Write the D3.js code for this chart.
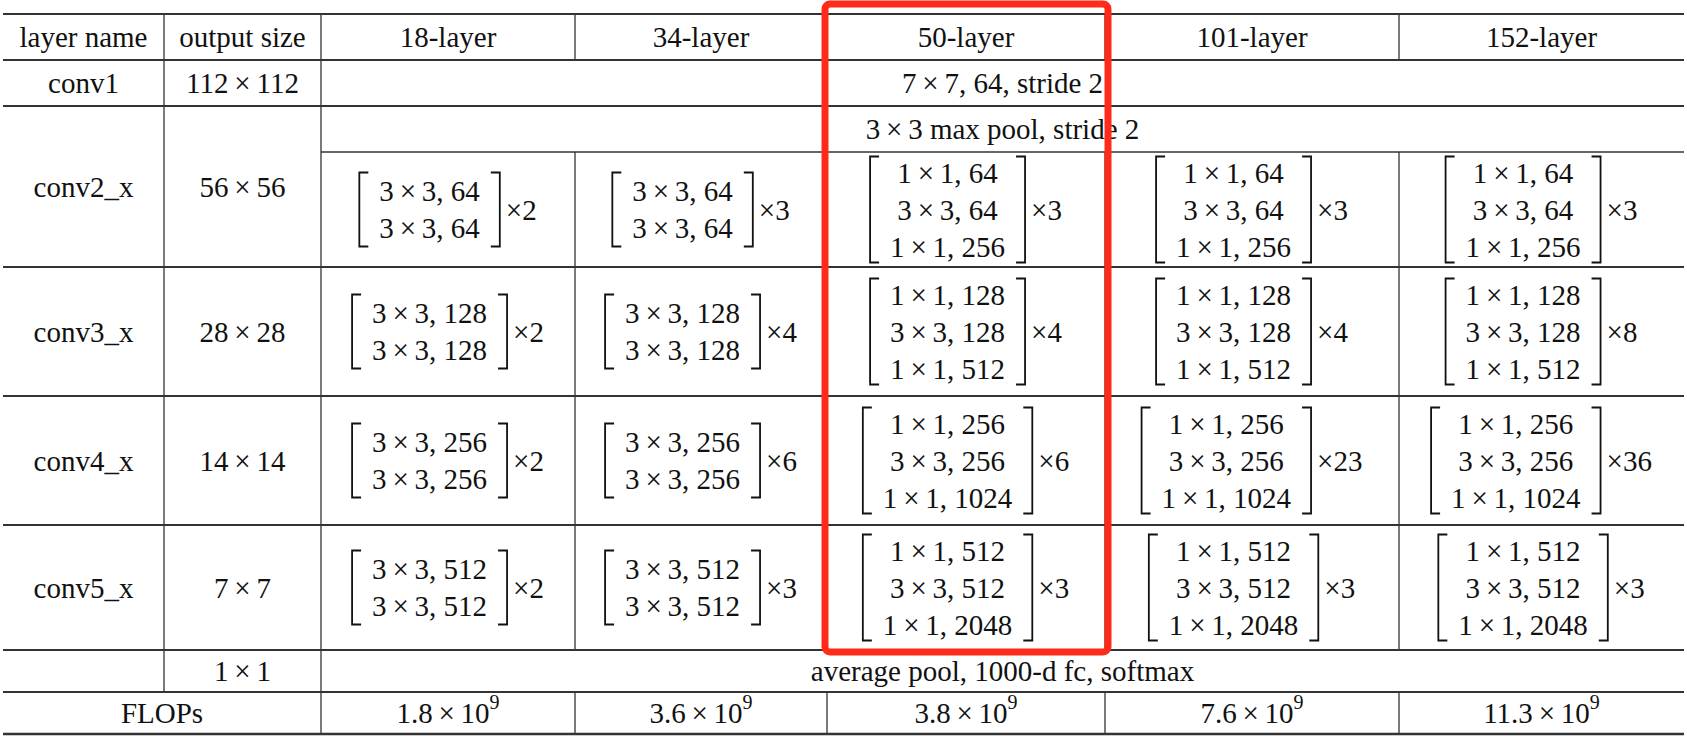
<!DOCTYPE html>
<html>
<head>
<meta charset="utf-8">
<script src="https://cdn.jsdelivr.net/npm/d3@7"></script>
<style>
body { margin: 0; background: white; }
svg text { font-family: "Liberation Serif", "Times New Roman", "DejaVu Serif", serif; fill: #111; }
</style>
</head>
<body>
<div id="chart"></div>
<script>
const width = 1687;
const height = 742;

// table content
const X = "\u2009×\u2009";
const headers = ["layer name", "output size", "18-layer", "34-layer", "50-layer", "101-layer", "152-layer"];
const layerNames = ["conv1", "conv2_x", "conv3_x", "conv4_x", "conv5_x", "", "FLOPs"];
const outputSizes = ["112" + X + "112", "56" + X + "56", "28" + X + "28", "14" + X + "14", "7" + X + "7", "1" + X + "1"];
const conv1Text = "7" + X + "7, 64, stride 2";
const poolText = "3" + X + "3 max pool, stride 2";
const avgText = "average pool, 1000-d fc, softmax";
const basicBlocks = [["3×3, 64", "3×3, 64"], ["3×3, 128", "3×3, 128"], ["3×3, 256", "3×3, 256"], ["3×3, 512", "3×3, 512"]];
const bottleBlocks = [["1×1, 64", "3×3, 64", "1×1, 256"], ["1×1, 128", "3×3, 128", "1×1, 512"],
                      ["1×1, 256", "3×3, 256", "1×1, 1024"], ["1×1, 512", "3×3, 512", "1×1, 2048"]];
const repeats = [[2, 2, 2, 2], [3, 4, 6, 3], [3, 4, 6, 3], [3, 4, 23, 3], [3, 8, 36, 3]];
const flops = ["1.8", "3.6", "3.8", "7.6", "11.3"];

// grid lines
const colX = [3, 164, 321, 575, 827, 1105, 1399, 1684];
const rowY = [14, 60, 106, 152, 267, 396, 525, 650, 692, 734];

const svg = d3.select('#chart').append('svg')
    .attr('width', width).attr('height', height);

const FS = 29;
const FONT = '"Liberation Serif", "Times New Roman", "DejaVu Serif", serif';
const line = (x1, y1, x2, y2, w) => svg.append('line')
    .attr('x1', x1).attr('y1', y1).attr('x2', x2).attr('y2', y2)
    .attr('stroke', '#333').attr('stroke-width', w || 1.3);

// horizontal rules
line(colX[0], rowY[0], colX[7], rowY[0], 2);
line(colX[0], rowY[1], colX[7], rowY[1], 2);
line(colX[0], rowY[2], colX[7], rowY[2], 2);
line(colX[2], rowY[3], colX[7], rowY[3]);
[4, 5, 6, 7].forEach(i => line(colX[0], rowY[i], colX[7], rowY[i], 2));
line(colX[0], rowY[8], colX[7], rowY[8], 2);
line(colX[0], rowY[9], colX[7], rowY[9], 2.5);

// vertical rules
line(colX[1], rowY[0], colX[1], rowY[8]);
line(colX[2], rowY[0], colX[2], rowY[9]);
[3, 4, 5, 6].forEach(i => {
    line(colX[i], rowY[0], colX[i], rowY[1]);
    line(colX[i], rowY[3], colX[i], rowY[7]);
    line(colX[i], rowY[8], colX[i], rowY[9]);
});

const cx = i => (colX[i] + colX[i + 1]) / 2;
const cy = i => (rowY[i] + rowY[i + 1]) / 2;
const txt = (x, y, s, parent) => (parent || svg).append('text').attr('x', x).attr('y', y)
    .attr('text-anchor', 'middle').attr('dominant-baseline', 'central')
    .attr('font-family', FONT).attr('font-size', FS).text(s);

headers.forEach((h, i) => txt(cx(i), cy(0), h));
txt(cx(0), cy(1), layerNames[0]);
txt(cx(1), cy(1), outputSizes[0]);
txt((colX[2] + colX[7]) / 2, cy(1), conv1Text);
txt((colX[2] + colX[7]) / 2, cy(2), poolText);
for (let s = 0; s < 4; s++) {
    const yMid = s === 0 ? (rowY[2] + rowY[4]) / 2 : cy(s + 3);
    txt(cx(0), yMid, layerNames[s + 1]);
    txt(cx(1), yMid, outputSizes[s + 1]);
}
txt(cx(1), cy(7), outputSizes[5]);
txt((colX[2] + colX[7]) / 2, cy(7), avgText);
txt((colX[0] + colX[2]) / 2, cy(8), layerNames[6]);
flops.forEach((f, i) => {
    const t = txt(cx(i + 2), cy(8), f + X + "10");
    t.append('tspan').attr('font-size', 20).attr('dy', -11).text("9");
});

// bracketed blocks
const LH = 37;
for (let c = 0; c < 5; c++) {
    for (let s = 0; s < 4; s++) {
        const lines = (c < 2 ? basicBlocks[s] : bottleBlocks[s]).map(d => d.replace("×", X));
        const yMid = s === 0 ? cy(3) : cy(s + 3);
        const g = svg.append('g');
        lines.forEach((d, k) => txt(0, yMid + (k - (lines.length - 1) / 2) * LH, d, g));
        let maxW = 0;
        g.selectAll('text').each(function () { maxW = Math.max(maxW, this.getComputedTextLength()); });
        const bx = maxW / 2 + 20;
        const bh = lines.length === 3 ? 53 : 37;
        const path = `M${-bx + 9},${yMid - bh}H${-bx}V${yMid + bh}H${-bx + 9}` +
                     `M${bx - 9},${yMid - bh}H${bx}V${yMid + bh}H${bx - 9}`;
        g.append('path').attr('d', path).attr('fill', 'none')
            .attr('stroke', '#111').attr('stroke-width', 1.8);
        const m = g.append('text').attr('x', bx + 6).attr('y', yMid)
            .attr('dominant-baseline', 'central')
            .attr('font-family', FONT).attr('font-size', FS)
            .text("×" + repeats[c][s]);
        const total = 2 * bx + 6 + m.node().getComputedTextLength();
        const shift = cx(c + 2) - (-bx + total / 2);
        g.attr('transform', `translate(${shift},0)`);
    }
}

// highlight box around 50-layer
svg.append('rect')
    .attr('x', 825).attr('y', 4).attr('width', 283).attr('height', 648)
    .attr('rx', 5).attr('fill', 'none')
    .attr('stroke', '#ff2a1a').attr('stroke-width', 7);
</script>
</body>
</html>
